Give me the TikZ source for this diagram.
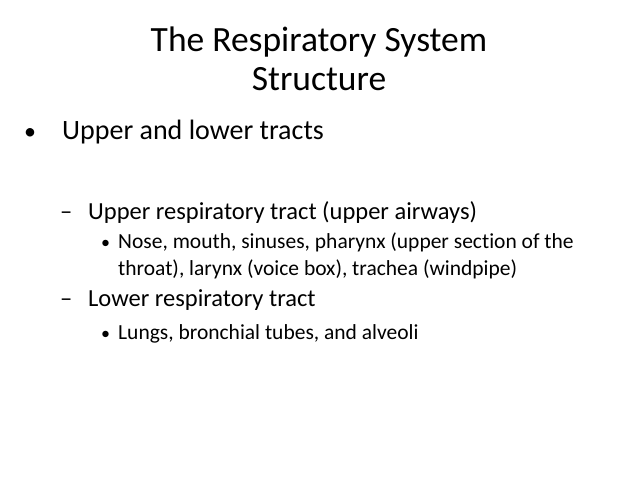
\documentclass[tikz,border=0pt]{standalone}
\usepackage{fontspec}
\setmainfont[Ligatures={NoCommon}]{Carlito}
\begin{document}
\begin{tikzpicture}[x=1pt,y=-1pt,
  t/.style={anchor=base west,inner sep=0pt}]
\useasboundingbox (0,0) rectangle (638,478);
\node[anchor=base,inner sep=0pt,font=\fontsize{35.5}{35.5}\selectfont] (t1) at (319,52) {The Respiratory System};
\node[anchor=base,inner sep=0pt,font=\fontsize{35.5}{35.5}\selectfont] (t2) at (319,91) {Structure};
\node[t,font=\fontsize{24}{24}\selectfont] (b1) at (24,140) {•};
\node[t,font=\fontsize{28}{28}\selectfont] (l1) at (62,140) {Upper and lower tracts};
\node[t,font=\fontsize{24.5}{24.5}\selectfont] (d1) at (60,220) {–};
\node[t,font=\fontsize{24.5}{24.5}\selectfont] (l2) at (88,220) {Upper respiratory tract (upper airways)};
\node[t,font=\fontsize{18}{18}\selectfont] (b2) at (101,249) {•};
\node[t,font=\fontsize{21.5}{21.5}\selectfont] (l3) at (118,249) {Nose, mouth, sinuses, pharynx (upper section of the};
\node[t,font=\fontsize{21.5}{21.5}\selectfont] (l4) at (118,276) {throat), larynx (voice box), trachea (windpipe)};
\node[t,font=\fontsize{24.5}{24.5}\selectfont] (d2) at (60,307) {–};
\node[t,font=\fontsize{24.5}{24.5}\selectfont] (l5) at (88,307) {Lower respiratory tract};
\node[t,font=\fontsize{18}{18}\selectfont] (b3) at (101,340) {•};
\node[t,font=\fontsize{21.5}{21.5}\selectfont] (l6) at (118,340) {Lungs, bronchial tubes, and alveoli};
\end{tikzpicture}
\end{document}
